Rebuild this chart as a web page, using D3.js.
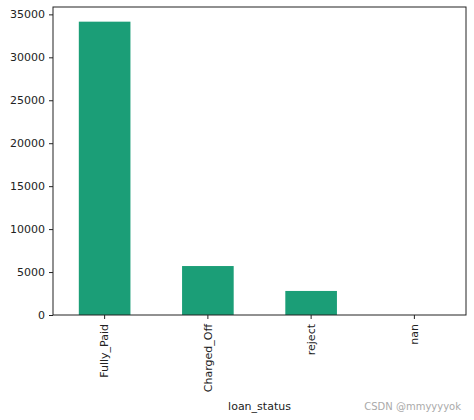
<!DOCTYPE html>
<html><head><meta charset="utf-8">
<script src="https://cdn.jsdelivr.net/npm/d3@7"></script>
<style>body{margin:0;background:#fff}svg{display:block}text{font-family:"DejaVu Sans",sans-serif}</style>
</head><body>
<svg id="c" width="474" height="420"></svg>
<script>
const categories = ["Fully_Paid", "Charged_Off", "reject", "nan"];
const counts = [34150, 5700, 2800, 0];
const yTicks = [0, 5000, 10000, 15000, 20000, 25000, 30000, 35000];
const xLabel = "loan_status";
const watermark = "CSDN @mmyyyyok";

const svg = d3.select("#c");
const m = {l: 53, r: 466, t: 7, b: 315};
const x = d3.scaleBand().domain(categories).range([m.l, m.r]).paddingInner(0.5).paddingOuter(0.25);
const y = d3.scaleLinear().domain([0, d3.max(counts) * 1.05]).range([m.b, m.t]);

svg.append("g").selectAll("rect").data(categories).join("rect")
  .attr("x", d => x(d)).attr("width", x.bandwidth())
  .attr("y", (d, i) => y(counts[i])).attr("height", (d, i) => y(0) - y(counts[i]))
  .attr("fill", "#1b9e77");

const yAxis = svg.append("g").attr("transform", `translate(${m.l},0)`)
  .call(d3.axisLeft(y).tickValues(yTicks).tickFormat(d3.format("d")).tickSize(4).tickPadding(4));
yAxis.select(".domain").remove();
yAxis.selectAll("text").attr("font-size", 11).attr("fill", "#222").attr("font-family", "DejaVu Sans");
yAxis.selectAll("line").attr("stroke", "#222");

const xAxis = svg.append("g").attr("transform", `translate(0,${m.b})`)
  .call(d3.axisBottom(x).tickSize(4).tickPadding(4));
xAxis.select(".domain").remove();
xAxis.selectAll("line").attr("stroke", "#222");
xAxis.selectAll("text").attr("font-size", 11).attr("fill", "#222").attr("font-family", "DejaVu Sans")
  .attr("transform", "rotate(-90)").attr("text-anchor", "end")
  .attr("x", -9).attr("y", 0).attr("dy", "0.35em");

svg.append("rect").attr("x", m.l).attr("y", m.t).attr("width", m.r - m.l).attr("height", m.b - m.t)
  .attr("fill", "none").attr("stroke", "#222").attr("stroke-width", 1);

svg.append("text").attr("x", (m.l + m.r) / 2).attr("y", 410).attr("text-anchor", "middle")
  .attr("font-size", 11).attr("fill", "#222").text(xLabel);
svg.append("text").attr("x", 461).attr("y", 410).attr("text-anchor", "end")
  .attr("font-size", 10).attr("fill", "#aaa").attr("font-family", "Liberation Sans, Arial, sans-serif").text(watermark);
</script>
</body></html>
